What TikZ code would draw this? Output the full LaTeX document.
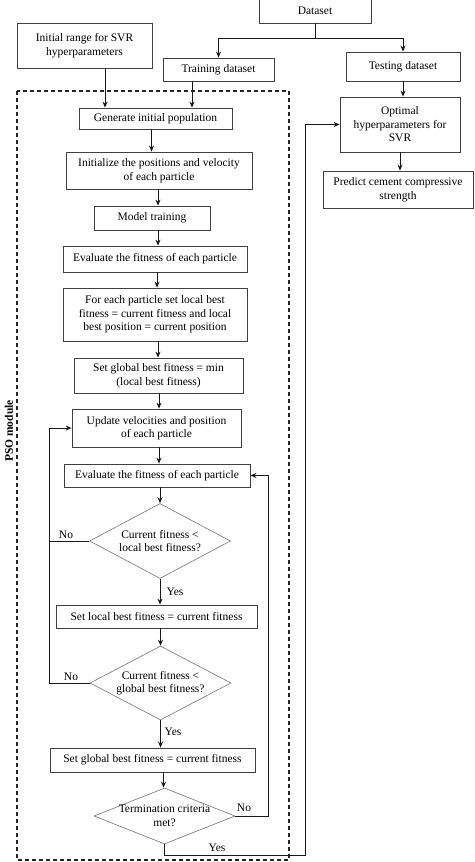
\documentclass[tikz,border=0pt]{standalone}
\usepackage{fontspec}
\setmainfont{Liberation Serif}
\usetikzlibrary{arrows.meta,shapes.geometric,calc}
\begin{document}
\begin{tikzpicture}[x=1pt,y=-1pt,
  txt/.style={font=\fontsize{11.5}{13.5}\selectfont, align=center},
  box/.style={txt, draw=black!75, line width=0.8pt, inner sep=1pt},
  dia/.style={draw=black!55, line width=0.6pt, shape=diamond, inner sep=0pt},
  conn/.style={line width=1pt, black!90},
  arr/.style={conn, -{Stealth[length=6pt,width=5pt]}},
  lbl/.style={font=\fontsize{11.5}{13}\selectfont}
]
\useasboundingbox (0,0) rectangle (474,862);
% top boxes
\node[box, minimum width=112pt, minimum height=25pt] (dataset) at (315,10.5) {Dataset};
\node[box, minimum width=135pt, minimum height=45pt] (range) at (84.5,45.5) {Initial range for SVR\\hyperparameters};
\node[box, minimum width=111pt, minimum height=23pt] (train) at (218.5,69.5) {Training dataset};
\node[box, minimum width=114pt, minimum height=29pt] (test) at (403,66.5) {Testing dataset};
\node[box, minimum width=120pt, minimum height=55pt] (opt) at (400,124.5) {Optimal\\hyperparameters for\\SVR};
\node[box, minimum width=150pt, minimum height=37pt] (pred) at (398,189.5) {Predict cement compressive\\strength};
% PSO flow
\node[box, minimum width=153pt, minimum height=21pt] (gen) at (155.5,118.5) {Generate initial population};
\node[box, minimum width=186pt, minimum height=37pt] (initpos) at (159,170.5) {Initialize the positions and velocity\\of each particle};
\node[box, minimum width=116pt, minimum height=24pt] (model) at (152,218) {Model training};
\node[box, minimum width=184pt, minimum height=26pt] (eval1) at (155,259) {Evaluate the fitness of each particle};
\node[box, minimum width=184pt, minimum height=53pt] (foreach) at (155,314.5) {For each particle set local best\\fitness = current fitness and local\\best position = current position};
\node[box, minimum width=169pt, minimum height=35pt] (setg) at (158.5,375.5) {Set global best fitness = min\\(local best fitness)};
\node[box, minimum width=169pt, minimum height=38pt] (update) at (156.5,428) {Update velocities and position\\of each particle};
\node[box, minimum width=186pt, minimum height=23pt] (eval2) at (157,475.5) {Evaluate the fitness of each particle};
\node[dia, minimum width=141pt, minimum height=75pt, label={[txt]center:{Current fitness <\\local best fitness?}}] (d1) at (160,541) {};
\node[box, minimum width=201pt, minimum height=23pt] (setl) at (156.5,616.5) {Set local best fitness = current fitness};
\node[dia, minimum width=141pt, minimum height=74pt, label={[txt]center:{Current fitness <\\global best fitness?}}] (d2) at (160.5,683) {};
\node[box, minimum width=205pt, minimum height=24pt] (setg2) at (152.5,760) {Set global best fitness = current fitness};
\node[dia, minimum width=141pt, minimum height=56pt, label={[txt]center:{Termination criteria\\met?}}] (d3) at (164.5,816) {};
% dashed module
\draw[line width=1.1pt, black!85, dash pattern=on 4pt off 3pt] (17,91) rectangle (289,860);
\node[font=\bfseries\fontsize{11.5}{13}\selectfont, rotate=90] (pso) at (9,431) {PSO module};
% coordinates
\coordinate (split) at (315,38);
\coordinate (lb) at (49,428);
\coordinate (rb) at (268,475.5);
\coordinate (yb) at (305,855);
% connectors
\draw[conn] (dataset.south) -- (split);
\draw[arr] (split) -| (train.north);
\draw[arr] (split) -| (test.north);
\draw[arr] ([xshift=20.5pt]range.south) -- ([xshift=20.5pt]range.south |- gen.north);
\draw[arr] ([xshift=-26.5pt]train.south) -- ([xshift=-26.5pt]train.south |- gen.north);
\draw[arr] (test.south) -- (test.south |- opt.north);
\draw[arr] (opt.south) -- (opt.south |- pred.north);
\draw[arr] ([xshift=-4pt]gen.south) -- ([xshift=-4pt]gen.south |- initpos.north);
\draw[arr] ([xshift=-1pt]initpos.south) -- ([xshift=-1pt]initpos.south |- model.north);
\draw[arr] ([xshift=6pt]model.south) -- ([xshift=6pt]model.south |- eval1.north);
\draw[arr] ([xshift=2pt]eval1.south) -- ([xshift=2pt]eval1.south |- foreach.north);
\draw[arr] ([xshift=3pt]foreach.south) -- ([xshift=3pt]foreach.south |- setg.north);
\draw[arr] ([xshift=0.5pt]setg.south) -- ([xshift=0.5pt]setg.south |- update.north);
\draw[arr] ([xshift=2.5pt]update.south) -- ([xshift=2.5pt]update.south |- eval2.north);
\draw[arr] ([xshift=3pt]eval2.south) -- ([xshift=3pt]eval2.south |- d1.north);
\draw[arr] (d1.south) -- (d1.south |- setl.north);
\draw[arr] ([xshift=4pt]setl.south) -- ([xshift=4pt]setl.south |- d2.north);
\draw[arr] (d2.south) -- (d2.south |- setg2.north);
\draw[arr] ([xshift=11pt]setg2.south) -- ([xshift=11pt]setg2.south |- d3.north);
\draw[arr] (d1.west) -| (lb) -- (update.west);
\draw[conn] (d2.west) -| (lb);
\draw[arr] (d3.east) -| (rb) -- (eval2.east);
\draw[arr] (d3.south) |- (yb) |- (opt.west);
% labels
\node[lbl] (no1) at (66,535) {No};
\node[lbl] (yes1) at (175,592) {Yes};
\node[lbl] (no2) at (71,677) {No};
\node[lbl] (yes2) at (173,732) {Yes};
\node[lbl] (no3) at (244,808) {No};
\node[lbl] (yes3) at (217,848) {Yes};
\end{tikzpicture}
\end{document}
